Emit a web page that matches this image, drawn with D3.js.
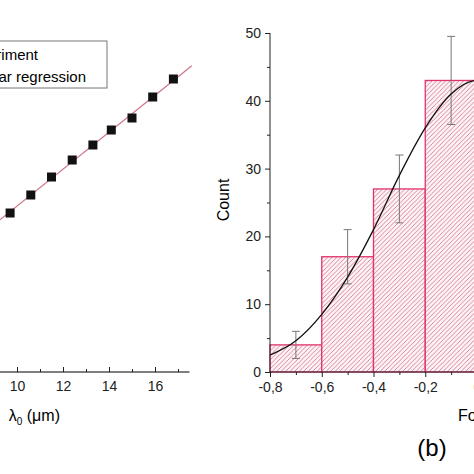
<!DOCTYPE html>
<html><head><meta charset="utf-8">
<script src="https://cdn.jsdelivr.net/npm/d3@7"></script>
<style>body{margin:0;background:#fff}text{font-family:Arial,"Liberation Sans",sans-serif}</style>
</head><body><svg id="c" width="474" height="474"></svg>
<script>
// panel (a): measurement points
var lambdaX = [9.7, 10.6, 11.5, 12.4, 13.3, 14.1, 15.0, 15.9, 16.8]
var measY = [15.9, 17.7, 19.5, 21.2, 22.7, 24.2, 25.4, 27.5, 29.3]
var aTicks = [10, 12, 14, 16]

// panel (b): histogram
var binStarts = [-0.8, -0.6, -0.4, -0.2, 0.0]
var counts = [4, 17, 27, 43, 43]
var errCenters = [-0.7, -0.5, -0.3, -0.1]
var errLow = [2, 13, 22, 36.5]
var errHigh = [6, 21, 32, 49.5]
var fitX = [-0.8, -0.7, -0.6, -0.5, -0.4, -0.3, -0.2, -0.1, 0.0, 0.1]
var fitY = [2.5, 4.6, 8.5, 14, 21, 29, 36, 41, 43, 41]
var bTicksX = [-0.8, -0.6, -0.4, -0.2, 0]
var bTicksY = [0, 10, 20, 30, 40, 50]

var svg = d3.select('#c')
var fmt = d => d3.format('.1f')(d).replace('.', ',').replace('−', '-')

// ---- panel (a)
var xa = d3.scaleLinear().domain([10, 12]).range([17, 63])
var ya = d3.scaleLinear().domain([0, 10]).range([372, 272])
var ga = svg.append('g')
ga.append('g').attr('transform', 'translate(0,372)')
    .call(d3.axisBottom(xa).tickValues(aTicks).tickSize(-5).tickPadding(9).tickFormat(d3.format('d')))
    .call(g => g.select('.domain').attr('d', 'M-5,0H' + xa(17.5)))
ga.append('g').attr('transform', 'translate(0,372)')
    .call(d3.axisBottom(xa).tickValues([9, 11, 13, 15, 17]).tickSize(-3).tickFormat(''))
    .call(g => g.select('.domain').remove())
ga.selectAll('.tick text').attr('font-size', 14).attr('fill', '#222')
ga.selectAll('.tick line').attr('stroke', '#222')

var mx = d3.mean(lambdaX), my = d3.mean(measY)
var slope = d3.sum(lambdaX, (x, i) => (x - mx) * (measY[i] - my)) / d3.sum(lambdaX, x => (x - mx) * (x - mx))
var icpt = my - slope * mx
ga.append('line').attr('x1', xa(9)).attr('x2', xa(17.6))
    .attr('y1', ya(icpt + slope * 9)).attr('y2', ya(icpt + slope * 17.6))
    .attr('stroke', '#d0788a').attr('stroke-width', 1.3)
ga.selectAll('rect.pt').data(lambdaX).enter().append('rect')
    .attr('x', (d) => xa(d) - 4.5).attr('y', (d, i) => ya(measY[i]) - 4.5)
    .attr('width', 9).attr('height', 9).attr('fill', '#111')

ga.append('rect').attr('x', -2).attr('y', 41).attr('width', 109).attr('height', 47)
    .attr('fill', '#fff').attr('stroke', '#777')
ga.append('text').attr('x', 38).attr('y', 60).attr('text-anchor', 'end').attr('font-size', 15).text('Experiment')
ga.append('text').attr('x', 86).attr('y', 82).attr('text-anchor', 'end').attr('font-size', 15).text('Linear regression')
var xl = ga.append('text').attr('x', 60).attr('y', 421).attr('text-anchor', 'end').attr('font-size', 16)
xl.append('tspan').text('λ')
xl.append('tspan').attr('font-size', 10).attr('dy', 4).text('0')
xl.append('tspan').attr('dy', -4).text(' (μm)')

// ---- panel (b)
var xb = d3.scaleLinear().domain([-0.8, 0]).range([270, 477])
var yb = d3.scaleLinear().domain([0, 50]).range([372, 33])
var defs = svg.append('defs')
var pat = defs.append('pattern').attr('id', 'hatch').attr('patternUnits', 'userSpaceOnUse')
    .attr('width', 4.5).attr('height', 4.5)
pat.append('rect').attr('width', 4.5).attr('height', 4.5).attr('fill', '#fdf3f5')
pat.append('path').attr('d', 'M-1,1L1,-1M0,4.5L4.5,0M3.5,5.5L5.5,3.5').attr('stroke', '#cf6a88').attr('stroke-width', 0.8)

var gb = svg.append('g')
gb.selectAll('rect.bar').data(binStarts).enter().append('rect')
    .attr('x', d => xb(d)).attr('width', xb(-0.6) - xb(-0.8))
    .attr('y', (d, i) => yb(counts[i])).attr('height', (d, i) => yb(0) - yb(counts[i]))
    .attr('fill', 'url(#hatch)').attr('stroke', '#e0336c').attr('stroke-width', 1.3)

var eb = gb.selectAll('g.err').data(errCenters).enter().append('g').attr('stroke', '#777').attr('stroke-width', 1)
eb.append('line').attr('x1', d => xb(d)).attr('x2', d => xb(d))
    .attr('y1', (d, i) => yb(errLow[i])).attr('y2', (d, i) => yb(errHigh[i]))
eb.append('line').attr('x1', d => xb(d) - 4).attr('x2', d => xb(d) + 4)
    .attr('y1', (d, i) => yb(errLow[i])).attr('y2', (d, i) => yb(errLow[i]))
eb.append('line').attr('x1', d => xb(d) - 4).attr('x2', d => xb(d) + 4)
    .attr('y1', (d, i) => yb(errHigh[i])).attr('y2', (d, i) => yb(errHigh[i]))

gb.append('path').datum(fitX)
    .attr('d', d3.line().x(d => xb(d)).y((d, i) => yb(fitY[i])).curve(d3.curveMonotoneX))
    .attr('fill', 'none').attr('stroke', '#111').attr('stroke-width', 1.3)

gb.append('g').attr('transform', 'translate(0,372)')
    .call(d3.axisBottom(xb).tickValues(bTicksX).tickSize(5).tickPadding(5).tickFormat(d => d === 0 ? '0' : fmt(d)))
    .call(g => g.select('.domain').attr('d', 'M270,0H474'))
gb.append('g').attr('transform', 'translate(0,372)')
    .call(d3.axisBottom(xb).tickValues([-0.7, -0.5, -0.3, -0.1]).tickSize(3).tickFormat(''))
    .call(g => g.select('.domain').remove())
gb.append('g').attr('transform', 'translate(270,0)')
    .call(d3.axisLeft(yb).tickValues(bTicksY).tickSize(5).tickPadding(4))
    .call(g => g.select('.domain').attr('d', 'M0,' + yb(0) + 'V' + yb(50)))
gb.append('g').attr('transform', 'translate(270,0)')
    .call(d3.axisLeft(yb).tickValues([5, 15, 25, 35, 45]).tickSize(3).tickFormat(''))
    .call(g => g.select('.domain').remove())
gb.selectAll('.tick text').attr('font-size', 14).attr('fill', '#222')
gb.selectAll('.tick line, .domain').attr('stroke', '#222')

gb.append('text').attr('transform', 'translate(229,200) rotate(-90)').attr('text-anchor', 'middle')
    .attr('font-size', 16).text('Count')
gb.append('text').attr('x', 458).attr('y', 421).attr('font-size', 16).text('Fourier coefficient')
gb.append('text').attr('x', 432).attr('y', 456).attr('text-anchor', 'middle')
    .attr('font-family', '"DejaVu Serif","Liberation Serif",serif').attr('font-size', 24).text('(b)')
</script></body></html>
